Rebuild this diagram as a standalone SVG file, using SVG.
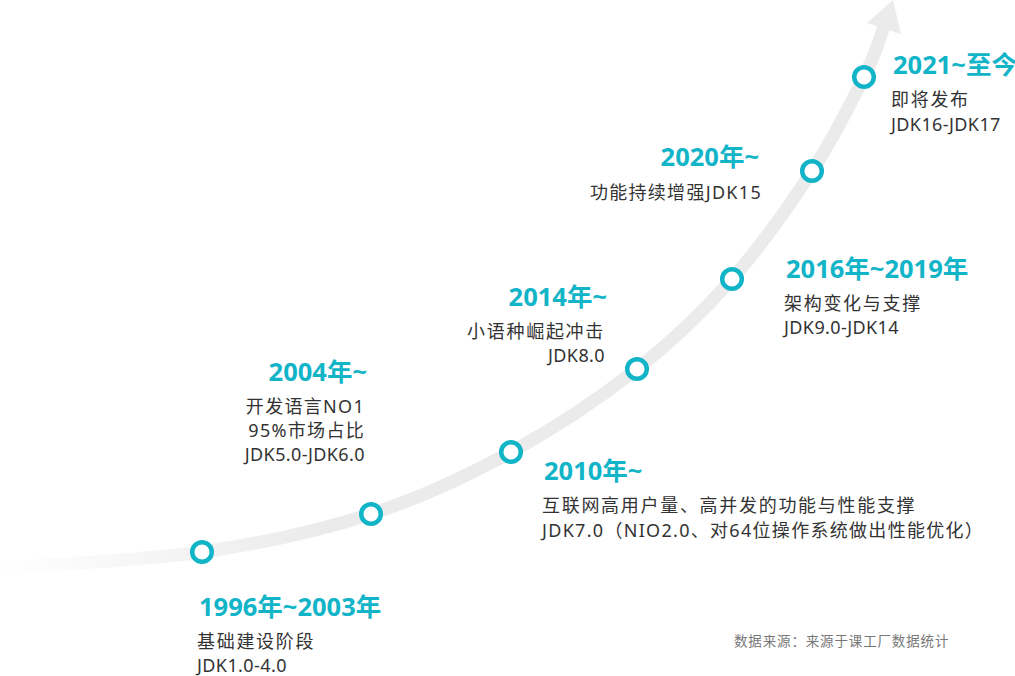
<svg xmlns="http://www.w3.org/2000/svg" width="1015" height="676" viewBox="0 0 1015 676">
<defs>
<linearGradient id="fade" gradientUnits="userSpaceOnUse" x1="0" y1="0" x2="320" y2="0">
<stop offset="0" stop-color="#ebebeb" stop-opacity="0"/>
<stop offset="1" stop-color="#ebebeb"/>
</linearGradient>
<style>
.dot{fill:#fff;stroke:#12b4c8;stroke-width:4.5}
.hd{font-family:"Noto Sans","Noto Sans CJK SC",sans-serif;font-weight:bold;font-size:25.5px;fill:#12b4c8}
.tx{font-family:"Noto Sans","Noto Sans CJK SC",sans-serif;font-size:18px;fill:#333;letter-spacing:1.7px}
.lat{letter-spacing:0.4px}
.mix{letter-spacing:1.3px}
.r{text-anchor:end}
.note{font-family:"Noto Sans CJK SC",sans-serif;font-size:13.5px;fill:#777;letter-spacing:0.85px}
</style>
</defs>
<g id="connectors">
<path d="M0,568 C33.7,565.3 140.2,561 202,552 C263.8,543 319.5,530.7 371,514 C422.5,497.3 466.7,476.2 511,452 C555.3,427.8 600.2,397.8 637,369 C673.8,340.2 702.8,312 732,279 C761.2,246 790,204.7 812,171 C834,137.3 851.7,101.5 864,77 C876.3,52.5 880,38 884,26" fill="none" stroke="url(#fade)" stroke-width="13"/>
<polygon points="893,0 867,23 901,34" fill="#ebebeb"/>
</g>
<g id="n1996"><circle class="dot" cx="202" cy="552" r="9.8"/>
<text class="hd" x="199" y="616">1996年~2003年</text>
<text class="tx" x="197" y="648">基础建设阶段</text>
<text class="tx lat" x="197" y="672">JDK1.0-4.0</text></g>
<g id="n2004"><circle class="dot" cx="371" cy="514" r="9.8"/>
<text class="hd r" x="367" y="381">2004年~</text>
<text class="tx mix r" x="365" y="413">开发语言NO1</text>
<text class="tx mix r" x="365" y="437">95%市场占比</text>
<text class="tx lat r" x="365" y="461">JDK5.0-JDK6.0</text></g>
<g id="n2010"><circle class="dot" cx="511" cy="452" r="9.8"/>
<text class="hd" x="544" y="480">2010年~</text>
<text class="tx" x="542" y="512">互联网高用户量、高并发的功能与性能支撑</text>
<text class="tx mix" x="542" y="537">JDK7.0（NIO2.0、对64位操作系统做出性能优化）</text></g>
<g id="n2014"><circle class="dot" cx="637" cy="369" r="9.8"/>
<text class="hd r" x="607" y="306">2014年~</text>
<text class="tx r" x="605" y="338">小语种崛起冲击</text>
<text class="tx lat r" x="605" y="362">JDK8.0</text></g>
<g id="n2016"><circle class="dot" cx="732" cy="279" r="9.8"/>
<text class="hd" x="786" y="278">2016年~2019年</text>
<text class="tx" x="784" y="310">架构变化与支撑</text>
<text class="tx lat" x="784" y="334">JDK9.0-JDK14</text></g>
<g id="n2020"><circle class="dot" cx="812" cy="171" r="9.8"/>
<text class="hd r" x="759" y="166">2020年~</text>
<text class="tx mix r" x="762" y="199">功能持续增强JDK15</text></g>
<g id="n2021"><circle class="dot" cx="864" cy="77" r="9.8"/>
<text class="hd" x="893" y="74">2021~至今</text>
<text class="tx" x="891" y="106">即将发布</text>
<text class="tx lat" x="891" y="131">JDK16-JDK17</text></g>
<text class="note" x="734" y="646">数据来源：来源于课工厂数据统计</text>
</svg>
